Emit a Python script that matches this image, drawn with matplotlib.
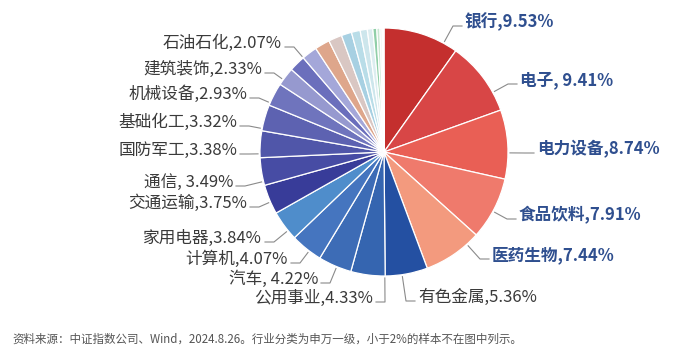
import numpy as np
import matplotlib.pyplot as plt

plt.rcParams['font.family'] = ['Noto Sans CJK SC', 'DejaVu Sans']

# industry weights (%), clockwise from 12 o'clock
industries = ['银行', '电子', '电力设备', '食品饮料', '医药生物', '有色金属', '公用事业',
              '汽车', '计算机', '家用电器', '交通运输', '通信', '国防军工', '基础化工',
              '机械设备', '建筑装饰', '石油石化']
weights = [9.53, 9.41, 8.74, 7.91, 7.44, 5.36, 4.33, 4.22, 4.07, 3.84, 3.75, 3.49,
           3.38, 3.32, 2.93, 2.33, 2.07]
seps = [',', ', ', ',', ',', ',', ',', ',', ', ', ',', ',', ',', ', ', ',', ',', ',', ',', ',']
# unlabeled slices (<2%)
small_weights = [1.95, 1.9, 1.7, 1.3, 1.1, 0.9, 0.7, 0.5, 0.4, 0.25, 0.15, 0.1]

colors = ['#c42f2e', '#d84646', '#e95f55', '#ef7a6c', '#f39a7e', '#2450a2', '#3565b0',
          '#3d6cb6', '#4575bf', '#4f8dcb', '#383c99', '#474ca4', '#5056a9', '#5d62b1',
          '#6f74bd', '#9699cf', '#6b6fbc']
small_colors = ['#a4a7d9', '#dea68b', '#d9c7c3', '#a7d0e2', '#b9dde8', '#cde6ec',
                '#dcedf0', '#90cfa8', '#c9e8d3', '#e3efe9', '#eef2f0', '#f3f3f3']

# label anchor (pixels from top-left): right labels = left edge, left labels = right edge
label_pos = [(465, 22), (520, 80), (537, 149), (519, 215), (492, 255), (418, 297),
             (373, 298), (318, 279), (288, 259), (262, 238), (247, 203), (233, 182),
             (237, 150), (237, 122), (247, 94), (262, 69), (282, 43)]

note = '资料来源：中证指数公司、Wind，2024.8.26。行业分类为申万一级，小于2%的样本不在图中列示。'

W, H = 700, 358
cx, cy, R = 384, H - 152, 124

fig = plt.figure(figsize=(7, 3.58), dpi=100)
ax = fig.add_axes([0, 0, 1, 1])
ax.pie(weights + small_weights, colors=colors + small_colors, startangle=90,
       counterclock=False, center=(cx, cy), radius=R,
       wedgeprops=dict(edgecolor='white', linewidth=0.9))
ax.set_xlim(0, W)
ax.set_ylim(0, H)
ax.set_aspect('equal')
ax.axis('off')

for i, (name, w, sep) in enumerate(zip(industries, weights, seps)):
    tx, ty = label_pos[i]
    right = tx > cx
    yl = H - (ty + 4)
    if right:
        end_x, elbow_x = tx - 3, tx - 12
    else:
        end_x, elbow_x = tx + 3, tx + 12
    d = np.array([elbow_x - cx, yl - cy], dtype=float)
    d /= np.hypot(*d)
    sx, sy = cx + (R + 2) * d[0], cy + (R + 2) * d[1]
    ax.plot([sx, elbow_x, end_x], [sy, yl, yl], color='#8a8a8a', lw=0.8)

    bold = i < 5
    ax.text(tx, H - ty, f'{name}{sep}{w:.2f}%', ha='left' if right else 'right',
            va='center', fontsize=12, fontweight='bold' if bold else 'normal',
            color='#2f4f8f' if bold else '#3a3a3a')

fig.text(12 / W, 1 - 339 / H, note, ha='left', va='center', fontsize=8.3, color='#555555')

plt.savefig('out.png', dpi=100)
